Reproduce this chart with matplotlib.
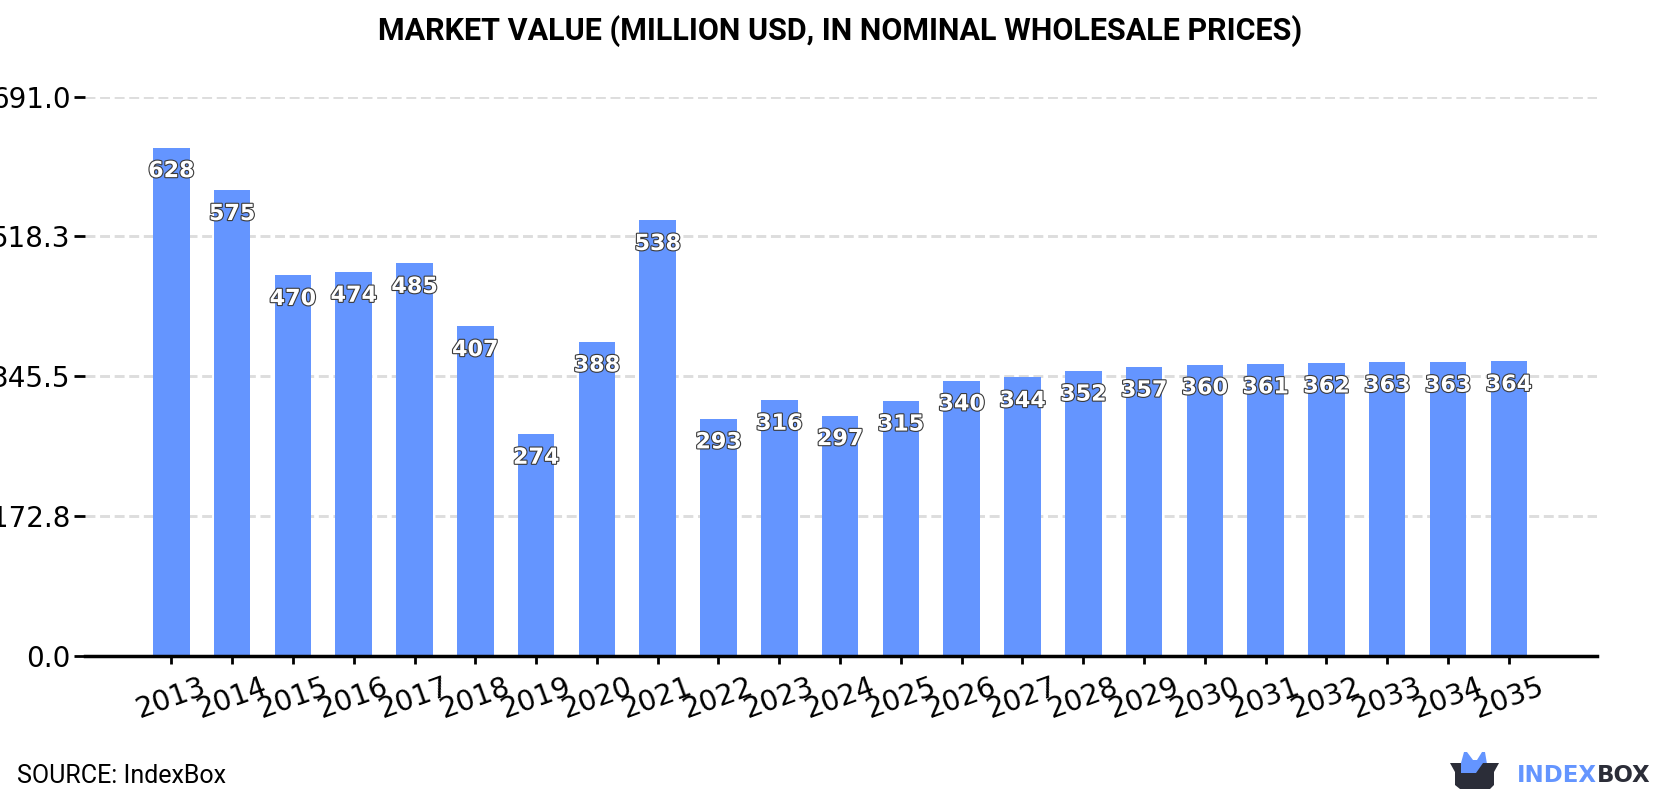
import numpy as np
import matplotlib
matplotlib.use("Agg")
import matplotlib.pyplot as plt
import matplotlib.patheffects as pe
from matplotlib.patches import Polygon

years = [str(y) for y in range(2013, 2036)]
values = [628, 575, 470, 474, 485, 407, 274, 388, 538, 293, 316, 297, 315,
          340, 344, 352, 357, 360, 361, 362, 363, 363, 364]
yticks = [0.0, 172.8, 345.5, 518.3, 691.0]

W, H = 1680, 800
fig = plt.figure(figsize=(W / 100, H / 100), dpi=100)
ax = fig.add_axes([85 / W, 1 - 656 / H, (1597 - 85) / W, (656 - 96.5) / H])

x = np.arange(len(years))
ax.bar(x, values, width=0.6, color="#6495ff", zorder=2)
ax.set_xlim(-1.42, 23.45)
ax.set_ylim(0, 691)

ax.set_yticks(yticks)
ax.set_yticklabels(["%.1f" % t for t in yticks], fontsize=20)
ax.set_xticks(x)
ax.set_xticklabels(years, fontsize=20.5, rotation=20)
ax.tick_params(axis="y", length=8, width=2, pad=2.5)
ax.tick_params(axis="x", length=6, width=2, pad=6)
ax.grid(axis="y", color="#dddddd", linestyle=(0, (3.4, 1.6)), linewidth=2.1, zorder=1)
for s in ["top", "right", "left"]:
    ax.spines[s].set_visible(False)
ax.spines["bottom"].set_linewidth(2.5)

# value labels sit just under the top of each bar
for i, v in enumerate(values):
    ax.annotate(str(v), (i, v), xytext=(0, -17), textcoords="offset points",
                ha="center", va="center", fontsize=16, fontweight="bold",
                color="white", zorder=3,
                path_effects=[pe.withStroke(linewidth=1.6, foreground="#3a3a3a")])

fig.text(0.5, 1 - 31 / H, "MARKET VALUE (MILLION USD, IN NOMINAL WHOLESALE PRICES)",
         ha="center", va="center", fontsize=22, fontweight="bold", family="Roboto")
fig.text(17 / W, 1 - 776 / H, "SOURCE: IndexBox", ha="left", va="center",
         fontsize=18, family="Roboto")

# logo
def px(points):
    return [(a / W, 1 - b / H) for a, b in points]

fig.add_artist(Polygon(px([(1461, 763), (1464, 752), (1467, 752), (1473, 760), (1477, 760),
                           (1482, 752), (1485, 752), (1487, 764), (1484, 773), (1461, 773)]),
                       transform=fig.transFigure, color="#6495ff", lw=0))
fig.add_artist(Polygon(px([(1450, 763), (1461, 763), (1461, 773), (1476, 773), (1483, 763),
                           (1499, 763), (1494, 772), (1494, 785), (1490, 789), (1460, 789),
                           (1455, 785), (1455, 772)]),
                       transform=fig.transFigure, color="#2b2d38", lw=0))
fig.text(1517 / W, 1 - 775 / H, "INDEX", ha="left", va="center", fontsize=16.5,
         fontweight="bold", color="#6495ff")
fig.text(1597 / W, 1 - 775 / H, "BOX", ha="left", va="center", fontsize=16.5,
         fontweight="bold", color="#2b2d38")

fig.savefig("out.png", dpi=100)
